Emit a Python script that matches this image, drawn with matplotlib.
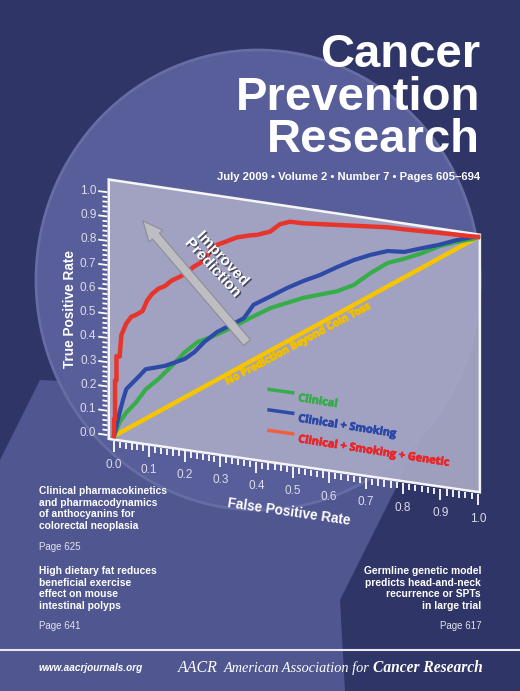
import numpy as np
import matplotlib
matplotlib.use('Agg')
import matplotlib.pyplot as plt
import matplotlib.transforms as mtransforms
import matplotlib.patheffects as pe
from matplotlib.patches import Ellipse, Polygon, FancyArrow

# ROC curves
fpr_red = [0, 0, 0.003, 0.003, 0.007, 0.007, 0.016, 0.021, 0.035, 0.049, 0.062, 0.081, 0.094,
           0.108, 0.126, 0.145, 0.163, 0.186, 0.20, 0.227, 0.255, 0.273, 0.291, 0.319, 0.346,
           0.383, 0.401, 0.438, 0.465, 0.493, 0.529, 0.575, 0.621, 0.667, 0.712, 0.758, 0.80,
           0.90, 1.0]
tpr_red = [0, 0.07, 0.07, 0.23, 0.23, 0.33, 0.33, 0.42, 0.47, 0.50, 0.51, 0.53, 0.575,
           0.605, 0.63, 0.645, 0.67, 0.69, 0.705, 0.74, 0.77, 0.815, 0.84, 0.86, 0.88,
           0.895, 0.90, 0.92, 0.955, 0.97, 0.97, 0.975, 0.98, 0.985, 0.99, 0.995, 0.995,
           0.998, 1.0]

fpr_blue = [0, 0.007, 0.016, 0.026, 0.035, 0.053, 0.071, 0.09, 0.117, 0.145, 0.172, 0.20,
            0.227, 0.255, 0.291, 0.328, 0.346, 0.365, 0.392, 0.438, 0.484, 0.529, 0.575,
            0.621, 0.667, 0.712, 0.758, 0.804, 0.85, 0.896, 0.941, 0.987, 1.0]
tpr_blue = [0, 0.044, 0.10, 0.156, 0.20, 0.23, 0.26, 0.293, 0.305, 0.318, 0.337, 0.357,
            0.39, 0.437, 0.485, 0.52, 0.537, 0.555, 0.615, 0.657, 0.70, 0.737, 0.77,
            0.81, 0.847, 0.876, 0.90, 0.905, 0.928, 0.95, 0.976, 0.998, 1.0]

fpr_green = [0, 0.016, 0.035, 0.062, 0.09, 0.126, 0.163, 0.20, 0.236, 0.273, 0.328, 0.383,
             0.438, 0.529, 0.621, 0.667, 0.712, 0.758, 0.804, 0.85, 0.896, 0.941, 0.987, 1.0]
tpr_green = [0, 0.06, 0.104, 0.15, 0.21, 0.26, 0.32, 0.384, 0.433, 0.46, 0.507, 0.56,
             0.61, 0.669, 0.713, 0.747, 0.803, 0.852, 0.878, 0.908, 0.944, 0.969, 0.99, 1.0]

coin_toss = [0, 1]

legend_labels = ['Clinical', 'Clinical + Smoking', 'Clinical + Smoking + Genetic']
tick_vals = [round(0.1 * i, 1) for i in range(11)]

title_lines = ['Cancer', 'Prevention', 'Research']
issue_line = 'July 2009 \u2022 Volume 2 \u2022 Number 7 \u2022 Pages 605\u2013694'
story_left1 = 'Clinical pharmacokinetics\nand pharmacodynamics\nof anthocyanins for\ncolorectal neoplasia'
story_left2 = 'High dietary fat reduces\nbeneficial exercise\neffect on mouse\nintestinal polyps'
story_right = 'Germline genetic model\npredicts head-and-neck\nrecurrence or SPTs\nin large trial'

red = '#e8352b'
blue = '#2d4aa6'
green = '#35ad48'
yellow = '#f6c500'
navy = '#2f3566'


class Persp(mtransforms.Transform):
    # projective map from ROC space to cover pixels
    input_dims = 2
    output_dims = 2
    is_separable = False

    def __init__(self, H):
        super().__init__()
        self.H = H

    def transform_non_affine(self, values):
        v = np.asarray(values, dtype=float).reshape(-1, 2)
        p = np.column_stack([v, np.ones(len(v))]) @ self.H.T
        return p[:, :2] / p[:, 2:3]

    def inverted(self):
        return Persp(np.linalg.inv(self.H))


def fit_h(src, dst):
    A, b = [], []
    for (x, y), (u, v) in zip(src, dst):
        A.append([x, y, 1, 0, 0, 0, -u * x, -u * y]); b.append(u)
        A.append([0, 0, 0, x, y, 1, -v * x, -v * y]); b.append(v)
    h = np.linalg.solve(np.array(A, float), np.array(b, float))
    return np.append(h, 1).reshape(3, 3)


H = fit_h([(0, 0), (1, 0), (0, 1), (1, 1)],
          [(114, 436), (478, 489), (114, 193), (478, 237)])
persp = Persp(H)

fig = plt.figure(figsize=(5.2, 6.91), dpi=100)
fig.patch.set_facecolor(navy)
ax = fig.add_axes([0, 0, 1, 1])
ax.set_xlim(0, 520)
ax.set_ylim(691, 0)
ax.axis('off')
roc = persp + ax.transData

# ghostly head and neck behind the chart
ax.add_patch(Polygon([(40, 380), (440, 400), (380, 520), (340, 600), (345, 691), (0, 691), (0, 460)],
                     closed=True, facecolor='#50568f', edgecolor='none', zorder=1))
ax.add_patch(Ellipse((258, 280), 444, 460, facecolor='#585e99', edgecolor='#676ca4', lw=2, zorder=1))

# chart panel
panel = [(-0.015, -0.015), (1.005, -0.012), (1.005, 1.01), (-0.015, 1.053)]
ax.add_patch(Polygon(panel, closed=True, facecolor='#a7a7c5', edgecolor='white', lw=1.8,
                     alpha=0.93, transform=roc, zorder=2))

# ticks
for i in range(61):
    xv = i / 60
    ylow = -0.065 if i % 6 == 0 else -0.045
    ax.plot([xv, xv], [-0.02, ylow], color='white', lw=1.3, transform=roc, zorder=3,
            solid_capstyle='butt')
for i in range(51):
    yv = i / 50
    xlow = -0.045 if i % 5 == 0 else -0.033
    ax.plot([-0.019, xlow], [yv, yv], color='white', lw=1.3, transform=roc, zorder=3,
            solid_capstyle='butt')
for v in tick_vals:
    ax.text(v, -0.118, f'{v:.1f}', transform=roc, ha='center', va='center', fontsize=8.5,
            color='#dcdcea', family='Liberation Sans', zorder=4)
    ax.text(-0.05, v, f'{v:.1f}', transform=roc, ha='right', va='center', fontsize=8.5,
            color='#dcdcea', family='Liberation Sans', zorder=4)

ax.text(0.49, -0.206, 'False Positive Rate', transform=roc, ha='center', va='center',
        rotation=-8.3, fontsize=9.8, weight='bold', color='white', family='Liberation Sans', zorder=4)
ax.text(-0.126, 0.5, 'True Positive Rate', transform=roc, ha='center', va='center',
        rotation=90, fontsize=9.8, weight='bold', color='white', family='Liberation Sans', zorder=4)

# curves
ax.plot(coin_toss, coin_toss, color=yellow, lw=3.2, transform=roc, zorder=5, solid_capstyle='butt')
ax.plot(fpr_green, tpr_green, color=green, lw=3.0, transform=roc, zorder=6)
ax.plot(fpr_blue, tpr_blue, color=blue, lw=3.0, transform=roc, zorder=7)
ax.plot(fpr_red, tpr_red, color=red, lw=3.2, transform=roc, zorder=8)

coin_col = '#f0bf00'
ax.text(0.514, 0.478, 'No Prediction Beyond Coin Toss', transform=roc, ha='center', va='center',
        rotation=28.2, fontsize=7.5, weight='bold', color=coin_col, family='Open Sans', zorder=9,
        path_effects=[pe.withStroke(linewidth=0.7, foreground=coin_col)])

# legend drawn inside the skewed panel
leg_y = [0.28, 0.197, 0.114]
leg_line = [green, blue, '#f0603e']
leg_text = [green, '#2a48a8', '#e8262a']
for lab, lc, tc, yv in zip(legend_labels, leg_line, leg_text, leg_y):
    ax.plot([0.435, 0.50], [yv, yv], color=lc, lw=2.5, transform=roc, zorder=9)
    ax.text(0.515, yv - 0.02, lab, transform=roc, ha='left', va='center', rotation=-9,
            rotation_mode='anchor', fontsize=7.9, weight='bold', color=tc, family='Open Sans',
            zorder=9, path_effects=[pe.withStroke(linewidth=0.5, foreground=tc)])

# "improved prediction" arrow
tail = persp.transform([(0.374, 0.458)])[0]
tip = persp.transform([(0.082, 0.90)])[0]
ax.add_patch(FancyArrow(tail[0], tail[1], tip[0] - tail[0], tip[1] - tail[1], width=9,
                        head_width=18, head_length=20, length_includes_head=True,
                        facecolor='#bdbdc2', edgecolor='#8d8d99', lw=0.8, zorder=9))
ax.text(0.293, 0.765, 'Improved\nPrediction', transform=roc, ha='center', va='center',
        rotation=-47, fontsize=11, weight='bold', color='white', family='Liberation Sans',
        linespacing=0.95, zorder=10,
        path_effects=[pe.withSimplePatchShadow(offset=(1, -1), shadow_rgbFace='#333344', alpha=0.8)])

# masthead
for line, yb in zip(title_lines, [67, 110, 152]):
    ax.text(480, yb, line, ha='right', va='baseline', fontsize=34, weight='bold',
            color='white', family='Liberation Sans', zorder=10)
ax.text(480, 177, issue_line, ha='right', va='center', fontsize=8.1, weight='bold',
        color='white', family='Liberation Sans', zorder=10)

# cover stories
ax.text(39, 486, story_left1, ha='left', va='top', fontsize=7.4, weight='bold', color='white',
        family='Liberation Sans', linespacing=1.2, zorder=10)
ax.text(39, 547, 'Page 625', ha='left', va='center', fontsize=7, color='#e2e2ee',
        family='Liberation Sans', zorder=10)
ax.text(39, 566, story_left2, ha='left', va='top', fontsize=7.4, weight='bold', color='white',
        family='Liberation Sans', linespacing=1.2, zorder=10)
ax.text(39, 626, 'Page 641', ha='left', va='center', fontsize=7, color='#e2e2ee',
        family='Liberation Sans', zorder=10)
ax.text(481, 566, story_right, ha='right', va='top', fontsize=7.4, weight='bold', color='white',
        family='Liberation Sans', linespacing=1.2, multialignment='right', zorder=10)
ax.text(481, 626, 'Page 617', ha='right', va='center', fontsize=7, color='#e2e2ee',
        family='Liberation Sans', zorder=10)

# footer
ax.plot([0, 520], [650, 650], color='#e8e8f0', lw=1.5, zorder=10)
ax.text(39, 668, 'www.aacrjournals.org', ha='left', va='center', fontsize=7.2, weight='bold',
        style='italic', color='white', family='Liberation Sans', zorder=10)
ax.text(218, 668, 'AACR', ha='right', va='center', fontsize=11.5, style='italic', color='white',
        family='Liberation Serif', zorder=10)
ax.text(370, 668, 'American Association for', ha='right', va='center', fontsize=10.3,
        style='italic', color='white', family='Liberation Serif', zorder=10)
ax.text(483, 668, 'Cancer Research', ha='right', va='center', fontsize=11.2, style='italic',
        weight='bold', color='white', family='Liberation Serif', zorder=10)

fig.savefig('out.png', dpi=100, facecolor=navy)
